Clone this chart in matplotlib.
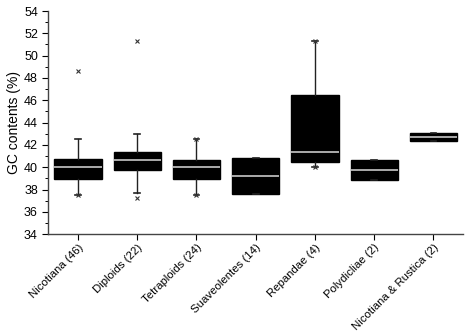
import matplotlib

matplotlib.use('Agg')

import matplotlib.pyplot as plt
from matplotlib.ticker import MultipleLocator

plt.rcParams['font.family'] = ['Liberation Sans', 'DejaVu Sans']

# box statistics (GC %)
groups = [
    'Nicotiana (46)', 'Diploids (22)', 'Tetraploids (24)', 'Suaveolentes (14)',
    'Repandae (4)', 'Polydicliae (2)', 'Nicotiana & Rustica (2)',
]
q1 = [38.90, 39.77, 38.90, 37.59, 40.46, 38.81, 42.34]
medians = [40.04, 40.67, 40.04, 39.23, 41.32, 39.77, 42.70]
q3 = [40.70, 41.32, 40.61, 40.79, 46.50, 40.64, 43.03]
whisker_lo = [37.50, 37.65, 37.50, 37.59, 40.04, 38.81, 42.34]
whisker_hi = [42.49, 43.00, 42.49, 40.79, 51.31, 40.64, 43.03]
outliers = [
    [48.65, 37.50],
    [51.28, 37.23],
    [42.49, 37.50],
    [],
    [51.31, 40.04],
    [],
    [],
]


def build_stats():
    stats = []
    for i, name in enumerate(groups):
        stats.append({
            'label': name,
            'q1': q1[i],
            'med': medians[i],
            'q3': q3[i],
            'whislo': whisker_lo[i],
            'whishi': whisker_hi[i],
            'fliers': outliers[i],
        })
    return stats


def main():
    fig = plt.figure(figsize=(4.74, 3.34), dpi=100)
    ax = fig.add_axes([0.102, 0.299, 0.875, 0.668])

    ax.bxp(
        build_stats(),
        positions=range(1, len(groups) + 1),
        widths=0.8,
        patch_artist=True,
        showfliers=True,
        boxprops={'facecolor': 'black', 'edgecolor': 'black', 'linewidth': 1.0},
        medianprops={'color': '#b8b8b8', 'linewidth': 1.3},
        whiskerprops={'color': '#222222', 'linewidth': 1.0},
        capprops={'color': '#222222', 'linewidth': 1.2},
        capwidths=0.1,
        flierprops={'marker': 'x', 'markersize': 3, 'markeredgewidth': 0.8,
                    'markeredgecolor': '#333333'},
    )

    ax.set_xlim(0.5, len(groups) + 0.5)
    ax.set_ylim(34, 54)
    ax.yaxis.set_major_locator(MultipleLocator(2))
    ax.yaxis.set_minor_locator(MultipleLocator(1))
    ax.set_xticks(range(1, len(groups) + 1))
    ax.set_xticklabels(groups, rotation=45, ha='right', rotation_mode='anchor',
                       fontsize=8.2)
    ax.tick_params(axis='y', labelsize=9, direction='out', length=4, width=0.8)
    ax.tick_params(axis='y', which='minor', direction='out', length=2.5, width=0.7)
    ax.tick_params(axis='x', direction='out', length=4, width=0.8, pad=2)
    ax.set_ylabel('GC contents (%)', fontsize=10, labelpad=2)

    for side in ('top', 'right'):
        ax.spines[side].set_visible(False)
    for side in ('left', 'bottom'):
        ax.spines[side].set_color('#444444')
        ax.spines[side].set_linewidth(1.0)

    fig.savefig('out.png', dpi=100)
    plt.close(fig)


if __name__ == '__main__':
    main()
